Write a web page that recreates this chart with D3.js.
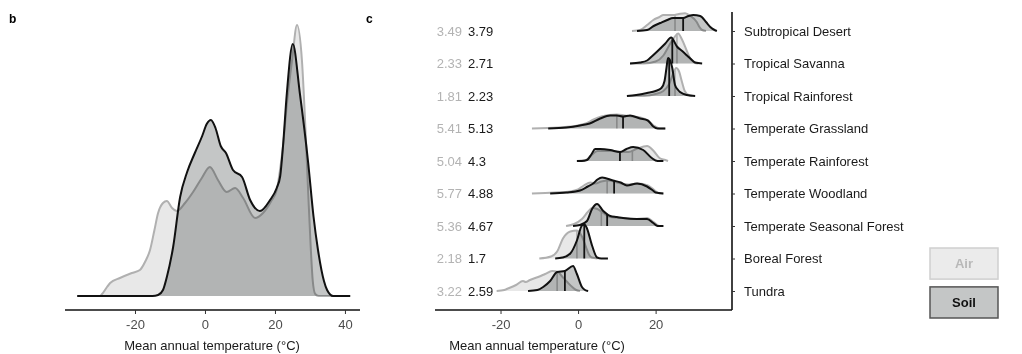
<!DOCTYPE html>
<html><head><meta charset="utf-8">
<script src="https://cdn.jsdelivr.net/npm/d3@7"></script>
<style>body{margin:0;background:#fff}text{font-family:"Liberation Sans",Arial,sans-serif}</style>
</head><body><svg id="c" width="1022" height="354"></svg>
<script>
// ---------- Panel b: overall density (temperature °C, density x1e-4) ----------
const airB = [[-36.5,0],[-30,0],[-29.4,2],[-28,9],[-27.1,13],[-24.3,18],[-20.9,23],[-18.6,26],[-17,35],[-15.7,46],[-14.5,65],[-13.4,83],[-12,93],[-10.9,95],[-9.4,88],[-8,85],[-5.7,93],[-3.4,104],[-0.9,118],[1.4,129],[3.7,116],[6.2,104],[8.6,108],[10.9,98],[14.3,78],[16.6,83],[19.1,96],[20.5,106],[21.4,125],[22.3,150],[23.5,195],[24.9,236],[26.3,271],[27.7,236],[28.8,160],[29.5,103],[30.2,50],[30.8,15],[31.5,2],[32.5,0],[41.5,0]];
const soilB = [[-36.5,0],[-15,0],[-13.4,1],[-12,6],[-10.9,19],[-9.1,49],[-7.1,99],[-5.1,124],[-2.9,143],[-0.8,160],[0.5,172],[1.7,176],[3,168],[4.5,150],[6,143],[8,126],[10.6,119],[12.9,96],[15.7,85],[18.6,96],[20.5,108],[21.5,120],[22.3,150],[23.4,203],[25.1,252],[27.1,203],[29.5,133],[31,80],[32.3,46],[34,15],[34.9,6],[36.6,0],[41.5,0]];
const ticksB = [-20, 0, 20, 40];

// ---------- Panel c: per-biome ridges (temperature °C, density x1e-3) ----------
const biomes = ["Subtropical Desert","Tropical Savanna","Tropical Rainforest","Temperate Grassland","Temperate Rainforest","Temperate Woodland","Temperate Seasonal Forest","Boreal Forest","Tundra"];
const airSD  = ["3.49","2.33","1.81","5.41","5.04","5.77","5.36","2.18","3.22"];
const soilSD = ["3.79","2.71","2.23","5.13","4.3","4.88","4.67","1.7","2.59"];
const airMedian  = [25, 25.5, 25, 10, 14, 7.5, 6, -0.3, -5.4];
const soilMedian = [27.1, 24.3, 23.5, 11.6, 10.8, 9.3, 7.5, 1.6, -3.4];
const airRidges = [
  [[13.9,0],[16,1],[17.8,6],[19.4,11],[21,14],[22,16],[24.5,16],[26,17],[27.6,17.7],[29,15],[30.6,9],[31.3,4],[32,1],[33,0]],
  [[13.4,0],[17,0],[20,2],[22,8],[23.5,18],[24.8,26],[25.8,30],[26.8,24],[28,13],[28.8,6],[30,1],[31,0]],
  [[12.6,0],[17,0],[20,2],[22,5],[23.5,12],[24.5,22],[25.3,28],[26,25],[26.8,14],[27.5,5],[28.5,1],[29.5,0]],
  [[-11.9,0],[-5,1],[0,3],[2,5],[4,9],[6,12],[8,13.5],[10,14],[12,13],[14,12],[16,11],[18,8],[19.5,3],[21,0],[22.5,0]],
  [[-0.3,0],[2,1],[3.5,6],[5,10],[7,10],[9,10],[11,9],[13,9],[15,12],[17.8,15],[19.5,10],[21,3],[22.5,1],[23.2,0]],
  [[-11.9,0],[-6,1],[-2,2],[0,4],[1.5,8],[3.2,11],[4.5,10],[6,12],[8,13],[10,11],[13,9],[15.5,10],[18,8],[19.5,4],[21,0],[22,0]],
  [[-3.1,0],[-1,2],[1,7],[2.5,14],[3.6,18],[5,17],[6.5,13],[8.3,9],[11.6,8],[15.2,7],[17.8,8],[19.5,4],[21,0],[22,0]],
  [[-10,0],[-7,2],[-5.4,7],[-3.9,20],[-2,27],[-0.3,28],[1,22],[2,12],[2.8,4],[3.5,1],[5,0]],
  [[-21,0],[-19,1],[-18.4,2],[-16,6],[-14.2,10],[-13.5,9],[-12.4,11],[-10.3,14],[-8.5,17],[-6.7,20],[-5.2,19],[-4,14],[-2.8,9],[-1.5,4],[-0.5,1],[0.5,0]]
];
const soilRidges = [
  [[15.2,0],[17.8,1],[19.5,5],[21.2,8],[23,11],[24.5,13],[27.1,13],[28.5,15],[29.7,16],[31.5,15],[33,9],[34.1,4],[35.2,1],[35.8,0]],
  [[13.4,0],[16,1],[17.8,3],[19,7],[20.4,12],[22.5,20],[24,26],[25.5,17],[27,12],[28.1,8],[29.5,3],[30.2,1],[32,0]],
  [[12.6,0],[15,1],[17.8,3],[20,5],[21.5,8],[22.3,15],[22.8,28],[23.2,38],[23.8,35],[24.3,28],[25,11],[25.8,6],[26.3,4],[28,1],[30.2,0]],
  [[-7.7,0],[-3,1],[0.5,3],[3,5],[5.7,10],[8.3,13],[10,13],[11.6,12],[13.4,13],[16,10],[18,8],[19.4,2],[20.5,0],[22.5,0]],
  [[-0.3,0],[1,0],[2.3,1],[3.5,7],[4.4,12],[5.7,12],[8.3,11],[10.8,9],[12.5,12],[14.2,14],[16.8,11],[19,3],[20.5,0],[22,0]],
  [[-7.2,0],[-3,1],[0.5,3],[2.5,7],[3.9,10],[5,14],[6.2,16],[9,13],[11,11],[12.6,8],[15.2,10],[17.8,7],[19.3,3],[20,1],[22,0]],
  [[-1.3,0],[0.5,1],[2.3,5],[3.6,17],[4.9,22],[6.5,15],[8.3,10],[10,9],[11.6,8],[15.2,7],[17.8,7],[19.4,3],[20.5,0],[22,0]],
  [[-5.9,0],[-4,1],[-2,5],[-0.3,18],[1,33],[1.7,34],[2.3,30],[3.6,13],[4.9,1],[6,0],[7.7,0]],
  [[-12.9,0],[-10.5,1],[-9,4],[-7.2,10],[-5.4,19],[-3.4,20],[-1.3,25],[-0.3,17],[1,4],[1.8,1],[2.6,0]]
];
const ticksC = [-20, 0, 20];
const legendKeys = ["Air","Soil"];

// ---------- styles ----------
const AIR_FILL = "#e8e8e8", AIR_STROKE = "#b0b0b0", SOIL_FILL = "#c4c6c6", SOIL_STROKE = "#111";
const svg = d3.select("#c");
const fmt = d => String(d);

// ---------- Panel b ----------
const xB = d3.scaleLinear().domain([-40, 44.3]).range([65, 360]);
const yB = d3.scaleLinear().domain([0, 300]).range([296, -4]);
const areaB = d3.area().x(d => xB(d[0])).y0(yB(0)).y1(d => yB(d[1])).curve(d3.curveMonotoneX);
const lineB = d3.line().x(d => xB(d[0])).y(d => yB(d[1])).curve(d3.curveMonotoneX);
const gb = svg.append("g");
gb.append("path").attr("d", areaB(airB)).attr("fill", AIR_FILL);
gb.append("path").attr("d", lineB(airB)).attr("fill", "none").attr("stroke", AIR_STROKE).attr("stroke-width", 2);
gb.append("path").attr("d", areaB(soilB)).attr("fill", SOIL_FILL).style("mix-blend-mode", "multiply");
gb.append("path").attr("d", lineB(soilB)).attr("fill", "none").attr("stroke", SOIL_STROKE).attr("stroke-width", 2);

const axB = gb.append("g").attr("transform", "translate(0,310)")
  .call(d3.axisBottom(xB).tickValues(ticksB).tickSize(4).tickPadding(6).tickFormat(fmt));
axB.select(".domain").attr("d", `M${xB.range()[0]},0H${xB.range()[1]}`).attr("stroke", "#111").attr("stroke-width", 1.6);
axB.selectAll(".tick line").attr("stroke", "#333");
axB.selectAll(".tick text").attr("font-size", 13).attr("fill", "#4d4d4d").attr("font-family", "Liberation Sans, Arial");
gb.append("text").attr("x", 212).attr("y", 350).attr("text-anchor", "middle").attr("font-size", 13).attr("fill", "#1a1a1a").text("Mean annual temperature (°C)");
svg.append("text").attr("x", 9).attr("y", 23).attr("font-size", 12).attr("font-weight", "bold").text("b");

// ---------- Panel c ----------
const xC = d3.scaleLinear().domain([-36.9, 39.7]).range([435, 732]);
const yC = d3.scalePoint().domain(biomes).range([31, 291]);
const hC = d3.scaleLinear().domain([0, 40]).range([0, 40]);
const gc = svg.append("g");
function interp(arr, x) {
  for (let i = 1; i < arr.length; i++) {
    if (x <= arr[i][0]) { const a = arr[i-1], b = arr[i]; return a[1] + (b[1]-a[1]) * (x - a[0]) / (b[0]-a[0]); }
  }
  return 0;
}
biomes.forEach((b, i) => {
  const base = yC(b);
  const area = d3.area().x(d => xC(d[0])).y0(base).y1(d => base - hC(d[1])).curve(d3.curveMonotoneX);
  const line = d3.line().x(d => xC(d[0])).y(d => base - hC(d[1])).curve(d3.curveMonotoneX);
  const g = gc.append("g");
  g.append("path").attr("d", area(airRidges[i])).attr("fill", AIR_FILL);
  g.append("line").attr("x1", xC(airMedian[i])).attr("x2", xC(airMedian[i]))
    .attr("y1", base).attr("y2", base - hC(interp(airRidges[i], airMedian[i]))).attr("stroke", AIR_STROKE).attr("stroke-width", 1.6);
  g.append("path").attr("d", line(airRidges[i])).attr("fill", "none").attr("stroke", AIR_STROKE).attr("stroke-width", 2);
  g.append("path").attr("d", area(soilRidges[i])).attr("fill", SOIL_FILL).style("mix-blend-mode", "multiply");
  g.append("line").attr("x1", xC(soilMedian[i])).attr("x2", xC(soilMedian[i]))
    .attr("y1", base).attr("y2", base - hC(interp(soilRidges[i], soilMedian[i]))).attr("stroke", SOIL_STROKE).attr("stroke-width", 1.8);
  g.append("path").attr("d", line(soilRidges[i])).attr("fill", "none").attr("stroke", SOIL_STROKE).attr("stroke-width", 2);
  // SD labels
  gc.append("text").attr("x", 462).attr("y", base).attr("dy", "0.36em").attr("text-anchor", "end")
    .attr("font-size", 13).attr("fill", "#b3b3b3").text(airSD[i]);
  gc.append("text").attr("x", 468).attr("y", base).attr("dy", "0.36em")
    .attr("font-size", 13).attr("fill", "#1a1a1a").text(soilSD[i]);
});

const axC = gc.append("g").attr("transform", "translate(0,310)")
  .call(d3.axisBottom(xC).tickValues(ticksC).tickSize(4).tickPadding(6).tickFormat(fmt));
axC.select(".domain").attr("d", `M${xC.range()[0]},0H${xC.range()[1]}`).attr("stroke", "#111").attr("stroke-width", 1.6);
axC.selectAll(".tick line").attr("stroke", "#333");
axC.selectAll(".tick text").attr("font-size", 13).attr("fill", "#4d4d4d").attr("font-family", "Liberation Sans, Arial");

const ayC = gc.append("g").attr("transform", "translate(732,0)")
  .call(d3.axisRight(yC).tickSize(3).tickPadding(9));
ayC.select(".domain").attr("d", "M0,12V310").attr("stroke", "#111").attr("stroke-width", 1.6);
ayC.selectAll(".tick line").attr("stroke", "#333");
ayC.selectAll(".tick text").attr("font-size", 13).attr("fill", "#1a1a1a").attr("font-family", "Liberation Sans, Arial");
gc.append("text").attr("x", 537).attr("y", 350).attr("text-anchor", "middle").attr("font-size", 13).attr("fill", "#1a1a1a").text("Mean annual temperature (°C)");
svg.append("text").attr("x", 366).attr("y", 23).attr("font-size", 12).attr("font-weight", "bold").text("c");

// ---------- Legend ----------
const lg = svg.append("g");
const legY = d3.scaleBand().domain(legendKeys).range([248, 318]).paddingInner(0.2);
const legFill = {Air: "#ebebeb", Soil: SOIL_FILL}, legStroke = {Air: "#cfcfcf", Soil: "#555"}, legText = {Air: "#b8b8b8", Soil: "#111"};
legendKeys.forEach(k => {
  lg.append("rect").attr("x", 930).attr("y", legY(k)).attr("width", 68).attr("height", legY.bandwidth())
    .attr("fill", legFill[k]).attr("stroke", legStroke[k]).attr("stroke-width", 1.5);
  lg.append("text").attr("x", 964).attr("y", legY(k) + legY.bandwidth()/2).attr("dy", "0.36em")
    .attr("text-anchor", "middle").attr("font-size", 13).attr("font-weight", "bold").attr("fill", legText[k]).text(k);
});
</script></body></html>
